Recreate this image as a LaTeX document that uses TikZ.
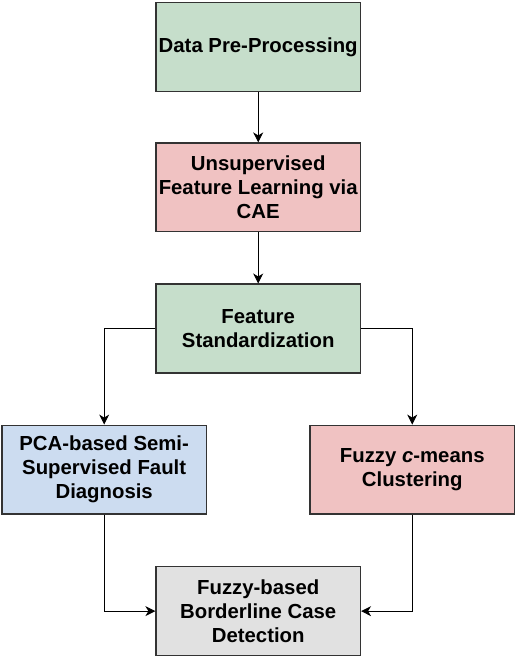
\documentclass[tikz,border=0pt]{standalone}
\usepackage{fontspec}
\setmainfont{Liberation Sans}
\usetikzlibrary{arrows.meta}
\definecolor{stepgreen}{HTML}{C6DECB}
\definecolor{stepred}{HTML}{F0C2C2}
\definecolor{stepblue}{HTML}{CCDCF0}
\definecolor{stepgray}{HTML}{E1E1E1}
\definecolor{stepline}{HTML}{333333}
\tikzset{
  stepbox/.style={draw=stepline, line width=1.3pt, minimum width=205pt, minimum height=89pt,
    align=center, font=\fontsize{20.4pt}{24pt}\selectfont\bfseries, inner sep=0pt},
  flow/.style={line width=0.9pt, -{Stealth[length=10pt,width=10pt,inset=3pt]}}
}
\begin{document}
\begin{tikzpicture}[x=1pt,y=1pt]
	\useasboundingbox (-1,-1) rectangle (517,659);
	\node[stepbox, fill=stepgreen] (prep) at (258,612) {Data Pre-Processing};
	\node[stepbox, fill=stepred] (cae) at (258,471) {Unsupervised\\Feature Learning via\\CAE};
	\node[stepbox, fill=stepgreen] (std) at (258,329.5) {Feature\\Standardization};
	\node[stepbox, fill=stepblue] (pca) at (103.5,188) {PCA-based Semi-\\Supervised Fault\\Diagnosis};
	\node[stepbox, fill=stepred] (fcm) at (412.5,188) {Fuzzy \textit{c}-means\\Clustering};
	\node[stepbox, fill=stepgray] (bcd) at (258,46) {Fuzzy-based\\Borderline Case\\Detection};
	
	\draw[flow] (prep) -- (cae);
	\draw[flow] (cae) -- (std);
	\draw[flow] (std.west) -| (pca.north);
	\draw[flow] (std.east) -| (fcm.north);
	\draw[flow] (pca.south) |- (bcd.west);
	\draw[flow] (fcm.south) |- (bcd.east);
\end{tikzpicture}
\end{document}
